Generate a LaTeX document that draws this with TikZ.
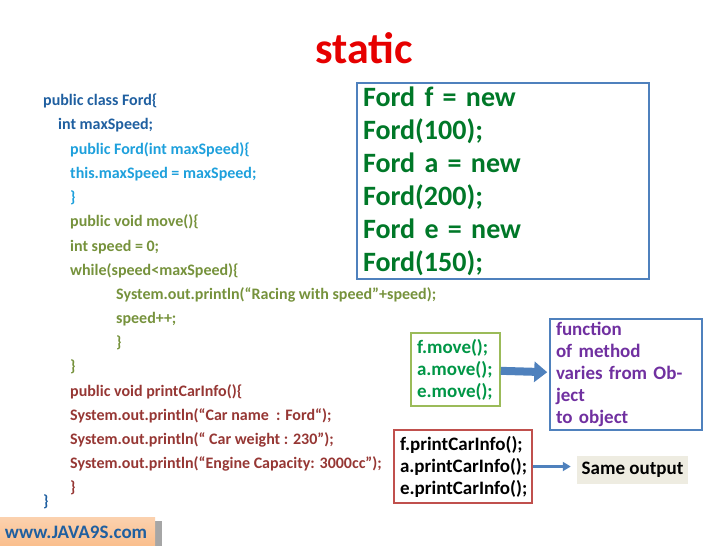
\documentclass[tikz,border=0pt]{standalone}
\usepackage{fontspec}
\setmainfont{Carlito}
\usetikzlibrary{positioning,arrows.meta}
\definecolor{titlecol}{RGB}{230,0,0}
\definecolor{darkblue}{RGB}{31,95,160}
\definecolor{lightblue}{RGB}{30,160,220}
\definecolor{olivecol}{RGB}{118,146,60}
\definecolor{redcol}{RGB}{150,55,52}
\definecolor{boxblue}{RGB}{79,129,189}
\definecolor{boxolive}{RGB}{155,187,89}
\definecolor{boxred}{RGB}{192,80,77}
\definecolor{greencol}{RGB}{0,150,70}
\definecolor{darkgreen}{RGB}{0,120,40}
\definecolor{purplecol}{RGB}{112,48,160}
\definecolor{greyfill}{RGB}{238,236,225}
\definecolor{footcol}{RGB}{250,190,140}
\tikzset{
    code/.style={anchor=base west, font=\bfseries\fontsize{16}{18}\selectfont, inner sep=0pt},
    callbox/.style={draw, line width=1.5pt, align=left, inner xsep=6pt, font=\bfseries\fontsize{19}{22}\selectfont},
}
\begin{document}
\begin{tikzpicture}[x=1pt, y=-1pt]
    \useasboundingbox (0,0) rectangle (728,546);

    % Title
    \node[font=\bfseries\fontsize{44}{46}\selectfont, text=titlecol] (title) at (364,48) {static};

    % Class code, line by line
    \node[code, text=darkblue]   (c1)  at (43,105) {public class Ford\{};
    \node[code, text=darkblue]   (c2)  at (58,129) {int maxSpeed;};
    \node[code, text=lightblue]  (c3)  at (70,154) {public Ford(int maxSpeed)\{};
    \node[code, text=lightblue]  (c4)  at (70,178) {this.maxSpeed = maxSpeed;};
    \node[code, text=lightblue]  (c5)  at (70,202) {\}};
    \node[code, text=olivecol]   (c6)  at (70,226) {public void move()\{};
    \node[code, text=olivecol]   (c7)  at (70,251) {int speed = 0;};
    \node[code, text=olivecol]   (c8)  at (70,275) {while(speed<maxSpeed)\{};
    \node[code, text=olivecol]   (c9)  at (116,299) {System.out.println(“Racing with speed”+speed);};
    \node[code, text=olivecol]   (c10) at (116,323) {speed++;};
    \node[code, text=olivecol]   (c11) at (116,347) {\}};
    \node[code, text=olivecol]   (c12) at (70,371) {\}};
    \node[code, text=redcol]     (c13) at (70,396) {public void printCarInfo()\{};
    \node[code, text=redcol]     (c14) at (70,420) {System.out.println(“Car name~~: Ford“);};
    \node[code, text=redcol]     (c15) at (70,444) {System.out.println(“ Car weight : 230”);};
    \node[code, text=redcol]     (c16) at (70,468) {System.out.println(“Engine Capacity: 3000cc”);};
    \node[code, text=redcol]     (c17) at (70,492) {\}};
    \node[code, text=darkblue]   (c18) at (43,506) {\}};

    % Objects
    \node[callbox, draw=boxblue, text=darkgreen, font=\bfseries\fontsize{28}{33}\selectfont,
          text width=280pt, minimum height=112pt] (objs) at (503,181)
        {Ford f = new Ford(100);\\Ford a = new Ford(200);\\Ford e = new Ford(150);};

    % Calls
    \node[callbox, draw=boxolive, text=greencol, text width=77pt, minimum height=73pt] (moves) at (455.5,369.5)
        {f.move();\\a.move();\\e.move();};
    \node[callbox, draw=boxblue, text=purplecol, text width=140pt, minimum height=95pt] (vary) at (626,374.5)
        {function\\of method\\varies from Object\\to object};
    \node[callbox, draw=boxred, text=black, text width=126pt, minimum height=73pt] (infos) at (463,466.5)
        {f.printCarInfo();\\a.printCarInfo();\\e.printCarInfo();};
    \node[fill=greyfill, font=\bfseries\fontsize{19}{22}\selectfont, minimum width=111pt, minimum height=28pt] (same) at (632.5,470)
        {Same output};

    \draw[boxblue, line width=8pt, -{Triangle[length=13pt, width=20pt]}, shorten >=2pt] (moves) -- (vary);
    \draw[boxblue, line width=3pt, -{Triangle[length=8pt, width=9pt]}] (infos.east) -- ++(38,0) coordinate (sameend);

    % Footer
    \fill[gray!70] (4,521) rectangle (162,546);
    \shade[top color=footcol!70, bottom color=footcol] (0,517) rectangle (155,546);
    \node[font=\bfseries\fontsize{19}{21}\selectfont, text=darkblue] (site) at (76,532) {www.JAVA9S.com};
\end{tikzpicture}
\end{document}
